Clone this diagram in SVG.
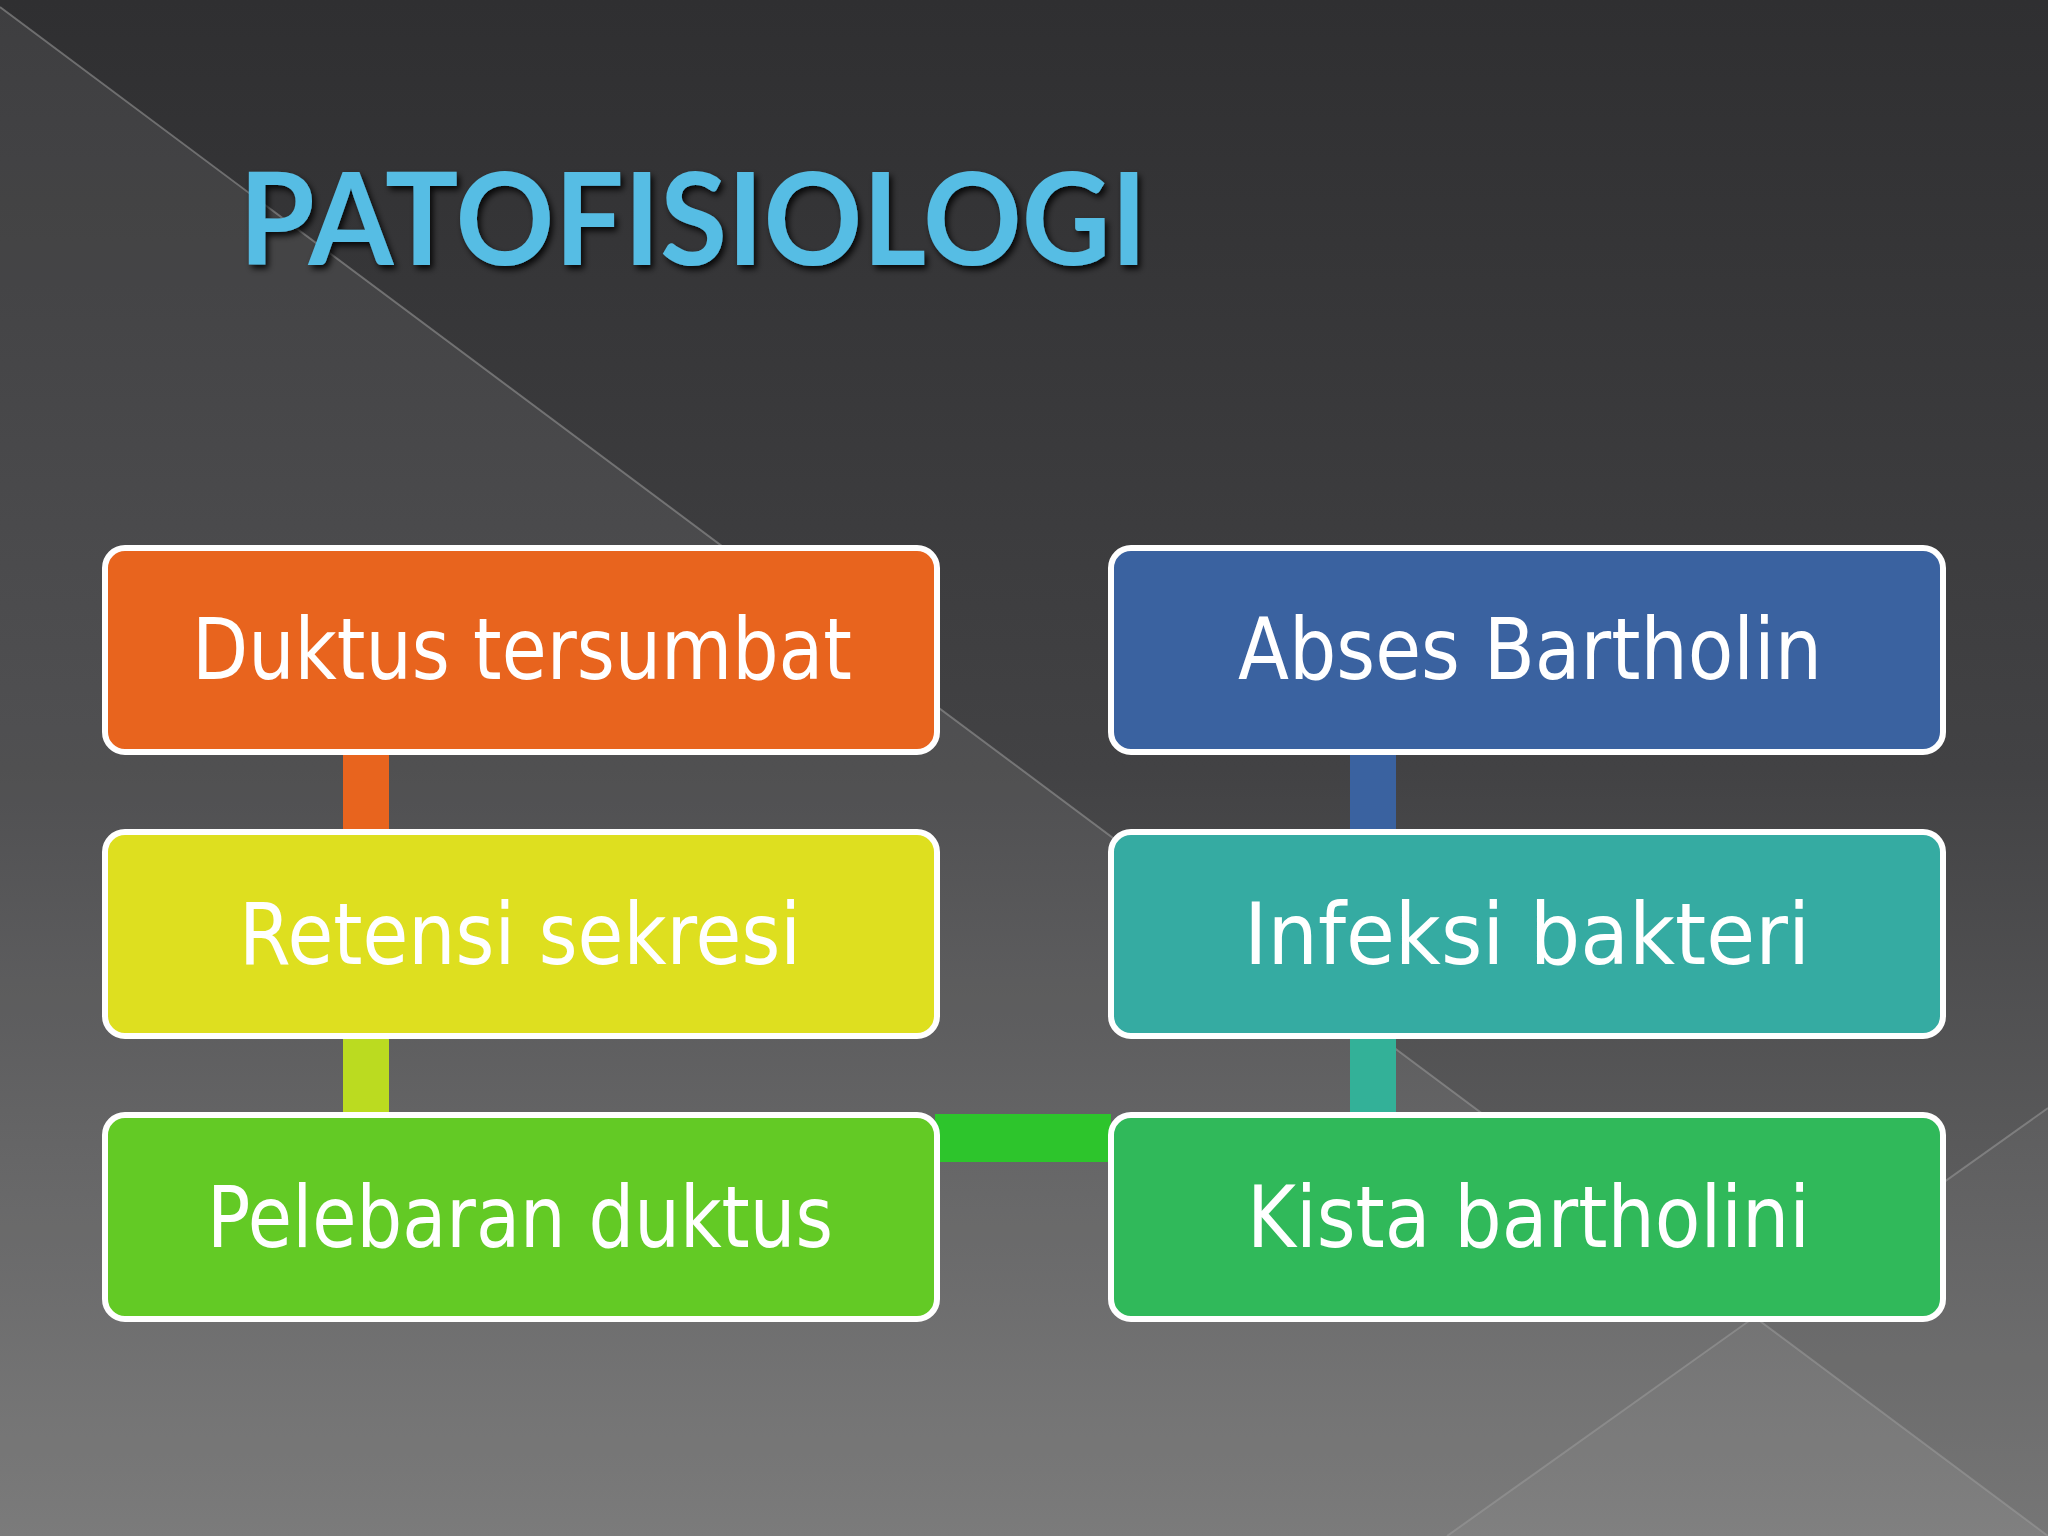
<svg xmlns="http://www.w3.org/2000/svg" width="2048" height="1536" viewBox="0 0 2048 1536">
  <defs>
    <linearGradient id="bg" x1="0" y1="0" x2="0" y2="1">
      <stop offset="0" stop-color="#2f2f31"/>
      <stop offset="0.5" stop-color="#424244"/>
      <stop offset="1" stop-color="#717171"/>
    </linearGradient>
    <filter id="tshadow" x="-5%" y="-20%" width="110%" height="150%">
      <feDropShadow dx="3" dy="4" stdDeviation="3" flood-color="#000" flood-opacity="0.85"/>
    </filter>
  </defs>
  <style>
    .box { stroke: #ffffff; stroke-width: 6; }
    .lbl { font-family: "Comic Sans MS", "DejaVu Sans", sans-serif; font-size: 86px; fill: #ffffff; }
    .title { font-family: "Lato", "DejaVu Sans", sans-serif; font-weight: 700; font-size: 128px; fill: #57bde4; }
    .bgline { stroke: #9a9a9a; stroke-opacity: 0.55; stroke-width: 2; fill: none; }
  </style>

  <!-- background -->
  <rect x="0" y="0" width="2048" height="1536" fill="url(#bg)"/>
  <polygon points="0,7 2048,1536 0,1536" fill="#ffffff" fill-opacity="0.075"/>
  <polygon points="1447,1536 2048,1108 2048,1536" fill="#ffffff" fill-opacity="0.04"/>
  <line class="bgline" x1="0" y1="7" x2="2048" y2="1536"/>
  <line class="bgline" x1="1447" y1="1536" x2="2048" y2="1108"/>

  <!-- title -->
  <text class="title" x="239" y="265" textLength="908" lengthAdjust="spacingAndGlyphs" filter="url(#tshadow)">PATOFISIOLOGI</text>

  <!-- connectors -->
  <g id="connectors">
    <rect x="343" y="750" width="46" height="82" fill="#e8641e"/>
    <rect x="343" y="1034" width="46" height="82" fill="#bbdb20"/>
    <rect x="1350" y="750" width="46" height="82" fill="#3a62a0"/>
    <rect x="1350" y="1034" width="46" height="82" fill="#33b198"/>
    <rect x="935" y="1114" width="176" height="48" fill="#2dc52c"/>
  </g>

  <!-- nodes -->
  <g id="node-duktus-tersumbat">
    <rect class="box" x="105" y="548" width="832" height="204" rx="20" fill="#e8641e"/>
    <text class="lbl" x="192" y="679" textLength="660" lengthAdjust="spacingAndGlyphs">Duktus tersumbat</text>
  </g>
  <g id="node-retensi-sekresi">
    <rect class="box" x="105" y="832" width="832" height="204" rx="20" fill="#dedf1f"/>
    <text class="lbl" x="239" y="964" textLength="562" lengthAdjust="spacingAndGlyphs">Retensi sekresi</text>
  </g>
  <g id="node-pelebaran-duktus">
    <rect class="box" x="105" y="1115" width="832" height="204" rx="20" fill="#63ca25"/>
    <text class="lbl" x="207" y="1247" textLength="626" lengthAdjust="spacingAndGlyphs">Pelebaran duktus</text>
  </g>
  <g id="node-abses-bartholin">
    <rect class="box" x="1111" y="548" width="832" height="204" rx="20" fill="#3a62a0"/>
    <text class="lbl" x="1238" y="679" textLength="584" lengthAdjust="spacingAndGlyphs">Abses Bartholin</text>
  </g>
  <g id="node-infeksi-bakteri">
    <rect class="box" x="1111" y="832" width="832" height="204" rx="20" fill="#35aba2"/>
    <text class="lbl" x="1244" y="964" textLength="566" lengthAdjust="spacingAndGlyphs">Infeksi bakteri</text>
  </g>
  <g id="node-kista-bartholini">
    <rect class="box" x="1111" y="1115" width="832" height="204" rx="20" fill="#30b95a"/>
    <text class="lbl" x="1247" y="1247" textLength="563" lengthAdjust="spacingAndGlyphs">Kista bartholini</text>
  </g>
</svg>
